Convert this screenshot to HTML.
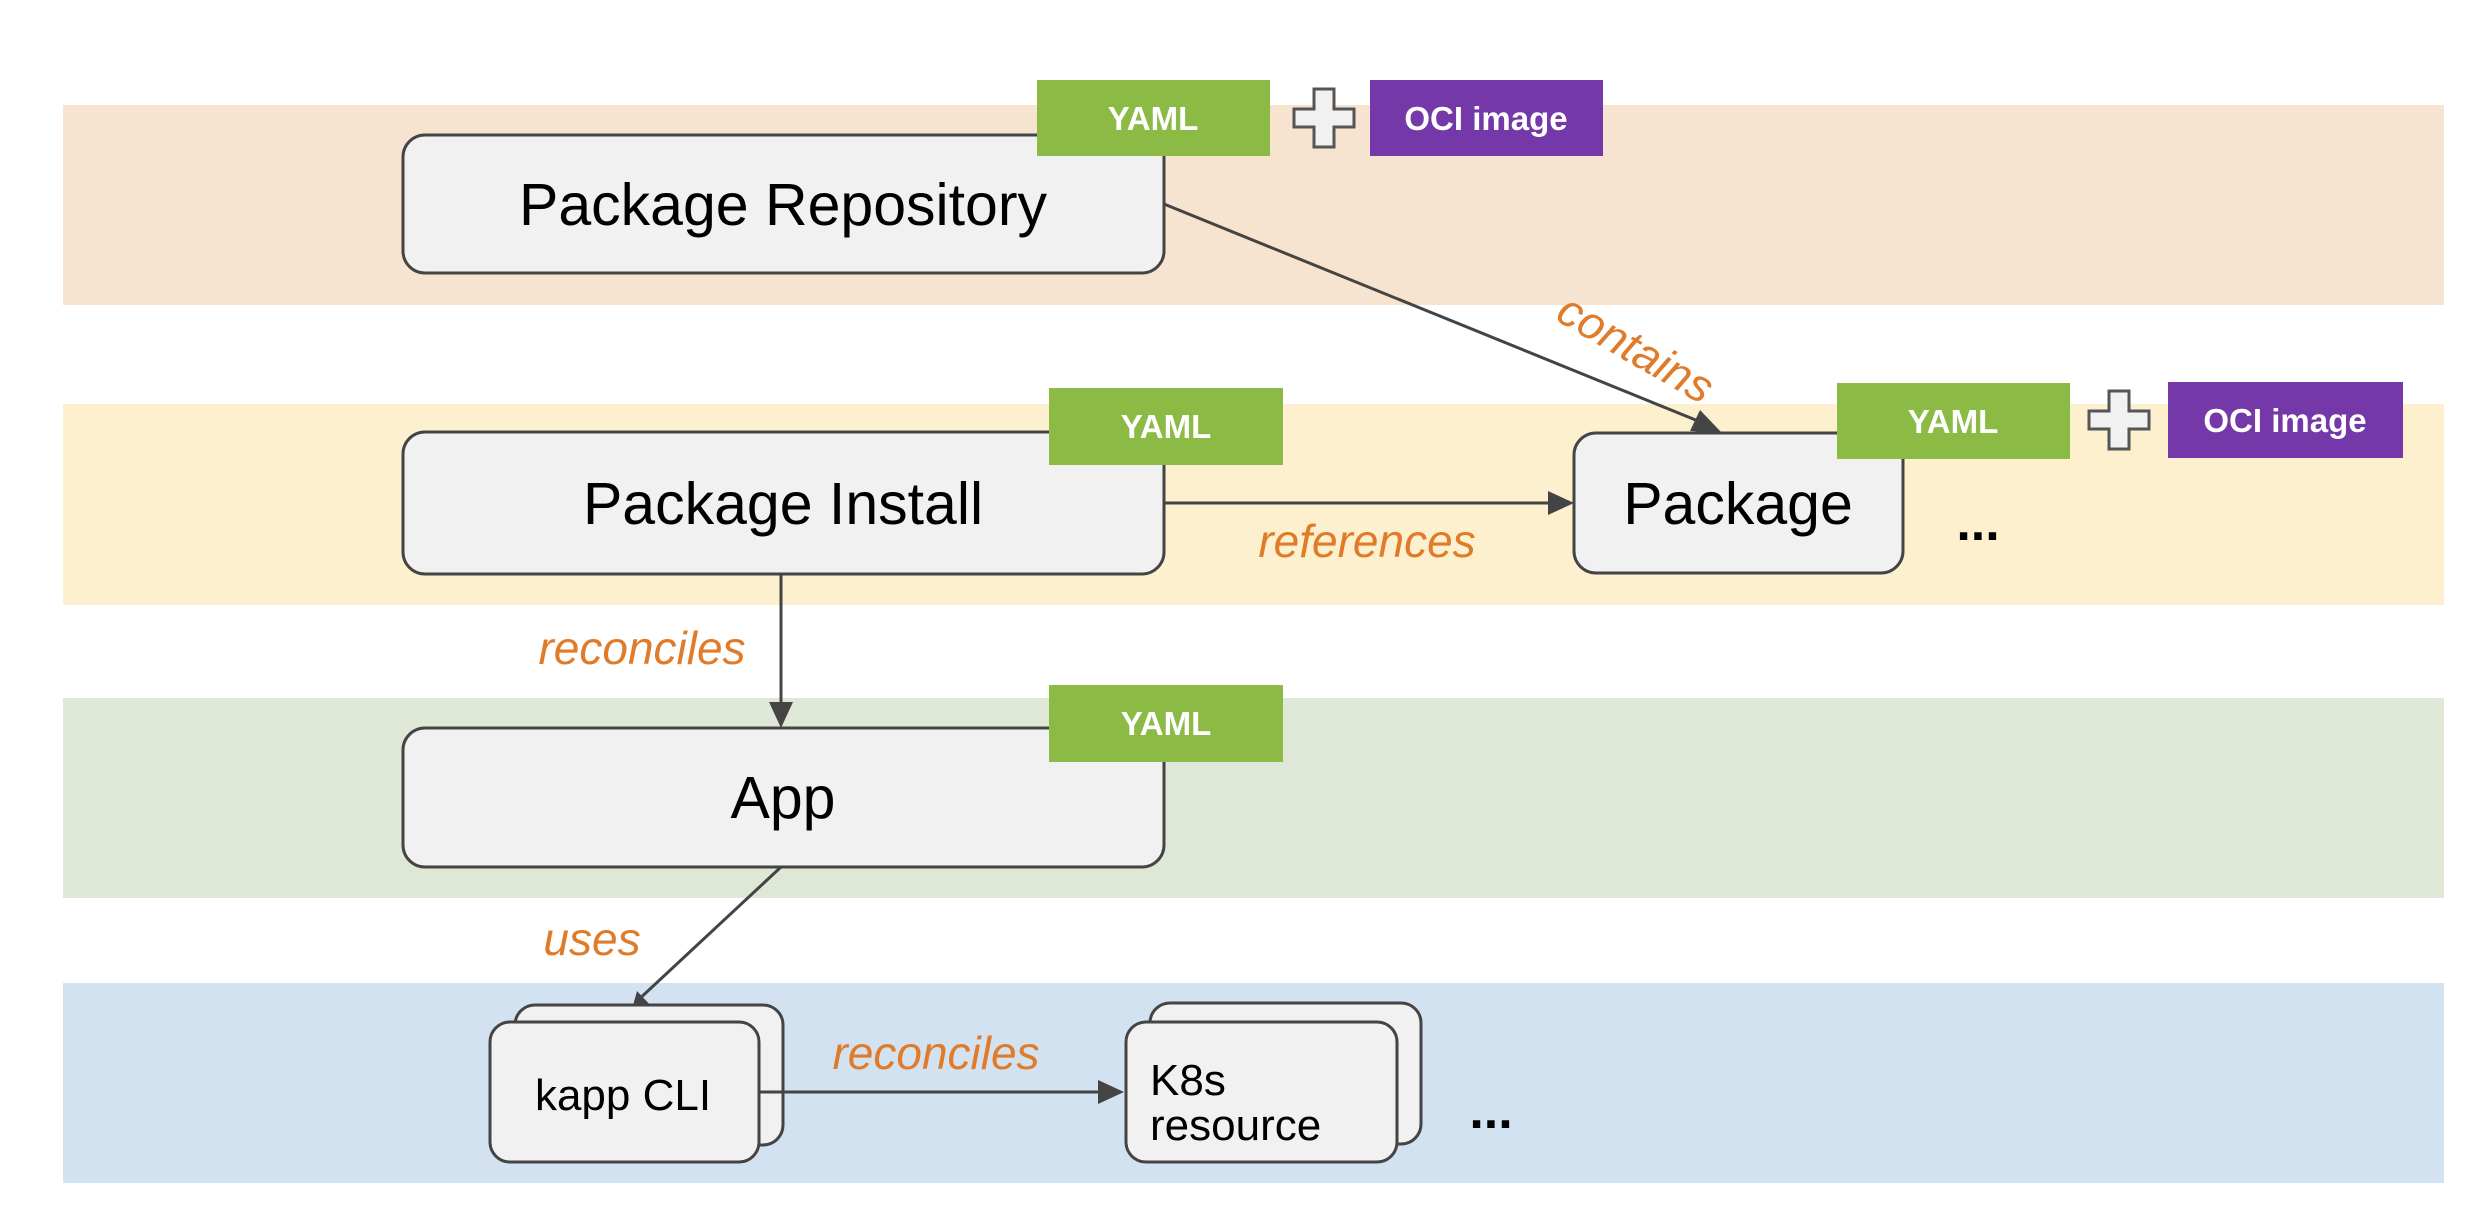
<!DOCTYPE html>
<html><head><meta charset="utf-8"><style>
html,body{margin:0;padding:0;background:#fff;}
svg{display:block;}
text{font-family:"Liberation Sans",Arial,sans-serif;}
.box{fill:#f1f1f1;stroke:#444;stroke-width:3;}
.lbl{font-size:59px;fill:#000;text-anchor:middle;}
.yaml{font-size:33px;font-weight:bold;fill:#fff;text-anchor:middle;}
.or{font-size:46px;font-style:italic;fill:#e07b2a;text-anchor:middle;}
.ln{stroke:#444;stroke-width:3;fill:none;}
.plus{fill:#f1f1f1;stroke:#555;stroke-width:3;}
</style></head><body>
<svg width="2487" height="1216" viewBox="0 0 2487 1216" xmlns="http://www.w3.org/2000/svg">
<rect x="63" y="105" width="2381" height="200" fill="#f6e4d0"/>
<rect x="63" y="404" width="2381" height="201" fill="#fcf0cf"/>
<rect x="63" y="698" width="2381" height="200" fill="#dfe8d6"/>
<rect x="63" y="983" width="2381" height="200" fill="#d3e2f0"/>

<line class="ln" x1="1164" y1="204" x2="1708" y2="425"/>
<polygon points="1722,433 1690,431 1700,410" fill="#444"/>
<text class="or" transform="translate(1628,362) rotate(30)">contains</text>

<rect class="box" x="403" y="135" width="761" height="138" rx="22"/>
<text class="lbl" x="783" y="225">Package Repository</text>
<rect x="1037" y="80" width="233" height="76" fill="#8bbb45"/>
<text class="yaml" x="1153" y="130">YAML</text>
<path class="plus" d="M1314,89 h20 v20 h20 v18 h-20 v20 h-20 v-20 h-20 v-18 h20 z"/>
<rect x="1370" y="80" width="233" height="76" fill="#7438a8"/>
<text class="yaml" x="1486" y="130">OCI image</text>

<rect class="box" x="403" y="432" width="761" height="142" rx="22"/>
<text class="lbl" x="783" y="524">Package Install</text>
<rect x="1049" y="388" width="234" height="77" fill="#8bbb45"/>
<text class="yaml" x="1166" y="438">YAML</text>

<line class="ln" x1="1164" y1="503" x2="1552" y2="503"/>
<polygon points="1574,503 1548,491 1548,515" fill="#444"/>
<text class="or" x="1367" y="557">references</text>

<rect class="box" x="1574" y="433" width="329" height="140" rx="22"/>
<text class="lbl" x="1738" y="524">Package</text>
<rect x="1837" y="383" width="233" height="76" fill="#8bbb45"/>
<text class="yaml" x="1953" y="433">YAML</text>
<path class="plus" d="M2109,391 h20 v20 h20 v18 h-20 v20 h-20 v-20 h-20 v-18 h20 z"/>
<rect x="2168" y="382" width="235" height="76" fill="#7438a8"/>
<text class="yaml" x="2285" y="432">OCI image</text>
<text x="1978" y="540" font-size="52" font-weight="bold" text-anchor="middle">...</text>

<line class="ln" x1="781" y1="574" x2="781" y2="706"/>
<polygon points="781,728 769,702 793,702" fill="#444"/>
<text class="or" x="642" y="664">reconciles</text>

<rect class="box" x="403" y="728" width="761" height="139" rx="22"/>
<text class="lbl" x="783" y="818">App</text>
<rect x="1049" y="685" width="234" height="77" fill="#8bbb45"/>
<text class="yaml" x="1166" y="735">YAML</text>

<line class="ln" x1="781" y1="867" x2="636" y2="1002"/>
<polygon points="629,1020 637,991 653,1008" fill="#444"/>
<text class="or" x="592" y="955">uses</text>

<rect class="box" x="515" y="1005" width="268" height="140" rx="20"/>
<rect class="box" x="490" y="1022" width="269" height="140" rx="20"/>
<text x="623" y="1110" font-size="44" text-anchor="middle">kapp CLI</text>

<line class="ln" x1="759" y1="1092" x2="1102" y2="1092"/>
<polygon points="1124,1092 1098,1080 1098,1104" fill="#444"/>
<text class="or" x="936" y="1069">reconciles</text>

<rect class="box" x="1150" y="1003" width="271" height="141" rx="20"/>
<rect class="box" x="1126" y="1022" width="271" height="140" rx="20"/>
<text x="1150" y="1095" font-size="44">K8s</text>
<text x="1150" y="1140" font-size="44">resource</text>
<text x="1491" y="1128" font-size="52" font-weight="bold" text-anchor="middle">...</text>
</svg>
</body></html>
